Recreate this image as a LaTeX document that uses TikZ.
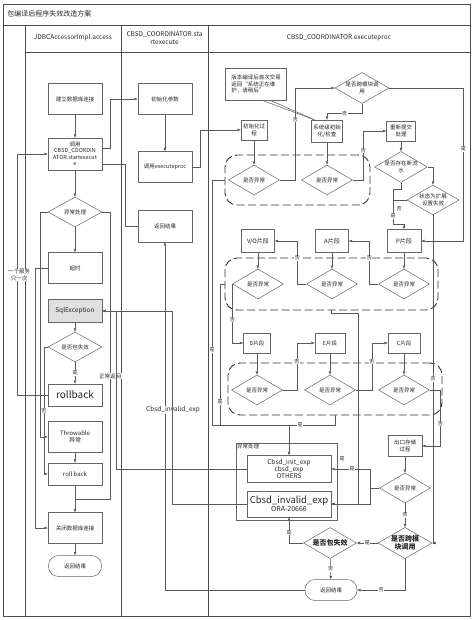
\documentclass[tikz,border=0pt]{standalone}
\usepackage{fontspec}
\setmainfont{Noto Sans CJK SC}
\usetikzlibrary{arrows.meta, positioning, calc, shapes.geometric}

\begin{document}
\begin{tikzpicture}[x=1pt, y=-1pt, line width=0.5pt,
        every node/.style={font=\fontsize{5.5}{6.5}\selectfont, align=center, inner sep=1pt, text=black!85},
        lane/.style={draw=black!70, line width=0.8pt},
        stepbox/.style={draw=black!60, minimum width=54pt, minimum height=31pt},
        smallbox/.style={draw=black!60, minimum width=30pt, minimum height=21pt},
        piece/.style={smallbox, minimum height=23pt, font=\fontsize{6}{7}\selectfont},
        decide/.style={diamond, draw=black!60, aspect=1.7, minimum width=51pt, minimum height=30pt, inner sep=0pt},
        endbox/.style={draw=black!60, rounded corners=10pt, minimum width=53pt, minimum height=21pt},
        grp/.style={draw=black!80, dash pattern=on 8pt off 3.5pt, rounded corners=12pt, line width=0.9pt},
        lbl/.style={fill=white, inner sep=0.5pt, font=\fontsize{5}{6}\selectfont},
        ln/.style={draw=black!65},
        arr/.style={draw=black!65, -{Triangle[length=1.2mm, width=0.9mm]}}]

        \useasboundingbox (0,0) rectangle (474,620);

        % frame and lanes
        \draw[lane] (3,4) rectangle (470,616);
        \draw[lane] (3,25) -- (470,25) (25,52) -- (470,52);
        \foreach \x in {25,121,208} \draw[lane] (\x,25) -- (\x,616);
        \node[anchor=west, font=\fontsize{7}{8}\selectfont] (title) at (6,14) {包编译后程序失效改造方案};
        \node[font=\fontsize{6.5}{8}\selectfont] (h1) at (73,38) {JDBCAccessorImpl.access};
        \node[font=\fontsize{6.5}{8}\selectfont] (h2) at (164.5,38) {CBSD\_COORDINATOR.sta\\rtexecute};
        \node[font=\fontsize{6.5}{8}\selectfont] (h3) at (339,38) {CBSD\_COORDINATOR.executeproc};

        % JDBCAccessorImpl.access
        \node[stepbox] (conn) at (75,99) {建立数据库连接};
        \node[stepbox, minimum height=32pt] (call) at (75,154) {调用\\CBSD\_COORDIN\\ATOR.startexecut\\e};
        \node[decide, minimum width=54pt] (exc) at (75,212) {异常处理};
        \node[stepbox] (timeout) at (75,268) {超时};
        \node[stepbox, fill=black!12, minimum height=23pt, font=\fontsize{6.5}{7.5}\selectfont] (sqlexc) at (75,311) {SqlException};
        \node[decide, minimum width=54pt] (pkgjd) at (75,347) {是否包失效};
        \node[stepbox, minimum height=22pt, font=\fontsize{10}{11}\selectfont] (rb1) at (75,395) {rollback};
        \node[stepbox, font=\fontsize{6}{7}\selectfont] (throw) at (75,437) {Throwable\\异常};
        \node[stepbox, minimum height=22pt, font=\fontsize{6}{7}\selectfont] (rb2) at (75,474) {roll back};
        \node[stepbox] (close) at (75,528) {关闭数据库连接};
        \node[endbox] (ret1) at (75,566) {返回结果};

        % CBSD_COORDINATOR.startexecute
        \node[stepbox] (param) at (165,99) {初始化参数};
        \node[stepbox] (callproc) at (165,167) {调用executeproc};
        \node[stepbox, minimum height=32pt] (ret2) at (165,226) {返回结果};

        % CBSD_COORDINATOR.executeproc
        \node[draw=black!60, minimum width=61pt, minimum height=32pt, align=left] (note) at (256,84) {版本编译后首次交易\\返回“系统正在维\\护，请稍后”};
        \node[smallbox, minimum width=26pt, minimum height=20pt] (init) at (254,130) {初始化过\\程};
        \node[decide, minimum width=54pt] (topcross) at (362,88) {是否跨模块调\\用};
        \node[smallbox, minimum width=31pt, minimum height=22pt] (sysinit) at (327,131) {系统级初始\\化/检查};
        \node[smallbox, minimum width=29pt, minimum height=20pt] (resubmit) at (401,131) {重新提交\\处理};
        \node[decide, minimum width=52pt, minimum height=29pt] (newflow) at (401,167) {是否存在新流\\水};
        \node[decide, minimum width=52pt] (status) at (433,200) {状态为扩展\\设置失效};

        \node[piece, minimum width=33pt] (vo) at (258,241) {V/O片段};
        \node[piece, minimum width=33pt] (A) at (332,241) {A片段};
        \node[piece, minimum width=34pt] (P) at (404,241) {P片段};
        \node[smallbox, minimum width=27pt, minimum height=20pt] (D) at (257,343) {D片段};
        \node[smallbox, minimum width=30pt, minimum height=20pt] (E) at (330,343) {E片段};
        \node[smallbox, minimum width=32pt, minimum height=20pt] (C) at (404,343) {C片段};

        \node[grp, minimum width=145pt, minimum height=50pt] (grp1) at (297.5,180) {};
        \node[grp, minimum width=213pt, minimum height=52pt] (grp2) at (331.5,284) {};
        \node[grp, minimum width=214pt, minimum height=52pt] (grp3) at (335,389) {};

        \foreach \n/\x/\y in {g1a/254/180, g1b/327/180, dV/258/284, dA/332/284, dP/404/284,
                dD/257/390, dE/330/390, dC/404/390, dExit/405/488}
            \node[decide] (\n) at (\x,\y) {是否异常};

        \node[smallbox, minimum width=34pt, minimum height=21pt] (exit) at (405,446) {出口存储\\过程};
        \node[decide, minimum width=54pt, minimum height=31pt, font=\bfseries\fontsize{7}{8}\selectfont] (lowcross) at (405,543) {是否跨模\\块调用};
        \node[decide, minimum width=53pt, minimum height=31pt, font=\bfseries\fontsize{7}{8}\selectfont] (pkg) at (330,543) {是否包失效};
        \node[endbox, minimum width=52pt] (ret3) at (331,590) {返回结果};

        \node[draw=black!60, minimum width=101pt, minimum height=77pt] (exbox) at (286.5,481.5) {};
        \node[anchor=north west] (exlabel) at (exbox.north west) {异常处理};
        \node[draw=black!60, minimum width=84pt, minimum height=27pt, font=\fontsize{6.5}{7}\selectfont] (initexp) at (289,469) {Cbsd\_init\_exp\\cbsd\_exp\\OTHERS};
        \node[draw=black!60, minimum width=84pt, minimum height=26pt] (invalid) at (289,504) {{\fontsize{9.5}{10}\selectfont Cbsd\_invalid\_exp}\\{\fontsize{7}{8}\selectfont ORA-20666}};

        % connectors, JDBC lane
        \draw[arr] (conn) -- (call);
        \draw[arr] ([yshift=6pt]call.east) -- ++(8,0) |- (param.west);
        \draw[ln] ([yshift=-10pt]call.east) -- ++(23,0) |- (ret2.west);
        \draw[arr] (call) -- (exc);
        \draw[arr] (exc) -- (timeout);
        \draw[ln] (exc.east) -- ++(8,0) |- ($(rb2.south)!0.5!(close.north)$);
        \draw[arr] (exc.west) -- ++(-8,0) |- (throw.west);
        \draw[arr] (timeout.west) -- ++(-13,0) |- (close.west);
        \draw[arr] (sqlexc) -- (pkgjd);
        \draw[arr] (pkgjd) -- node[lbl]{是} (rb1);
        \draw[arr] (pkgjd.west) -- ++(-4,0) |- node[lbl, pos=0.25]{否} (rb2.west);
        \draw[arr] (rb1.west) -- ++(-31,0) |- (call.west);
        \draw[arr] (throw) -- (rb2);
        \draw[arr] (rb2) -- (close);
        \draw[arr] (close) -- (ret1);
        \node[lbl, font=\fontsize{5.5}{6.5}\selectfont] (once) at (19,275) {一个服务\\只一次};
        \node[lbl, font=\fontsize{5.5}{6.5}\selectfont] (normal) at (110,376) {正常返回};

        % connectors, startexecute lane
        \draw[arr] (param) -- (callproc);
        \draw[arr] (callproc.east) -- ++(8,0) |- (init.west);
        \draw[arr] (ret3.west) -| (ret2.south);
        \node[lbl, font=\fontsize{6.5}{7.5}\selectfont] (invexp) at (173,410) {Cbsd\_invalid\_exp};
        \draw[arr] (invalid.west) -- ++(-75,0) |- (sqlexc.east);
        \draw[arr] (initexp.west) -- ++(-131,0) |- (sqlexc.east);

        % connectors, executeproc lane
        \draw[ln] ([xshift=6pt]note.south) -- ([xshift=3pt]sysinit.north west);
        \draw[ln] ([xshift=14pt]note.south) -- ([xshift=3pt]sysinit.north west);
        \draw[arr] (init) -- (g1a);
        \draw[arr] (g1a.east) -- ++(15.5,0) |- node[lbl, pos=0.33]{否} (topcross.west);
        \draw[arr] (topcross.south) -- ++(0,10) -| node[lbl, pos=0.25]{否} (sysinit.north);
        \draw[arr] (topcross.east) -- ++(74,0) |- node[lbl, pos=0.2]{是} (P.east);
        \draw[arr] (sysinit) -- (g1b);
        \draw[arr] (g1b.east) -- ++(10.5,0) |- node[lbl, pos=0.3]{否} (resubmit.west);
        \draw[arr] (resubmit) -- (newflow);
        \draw[arr] (newflow.east) -| (status.north);
        \draw[arr] (newflow.south) -- ++(0,7) -| (393,224) -| (P.north);
        \coordinate (pjoin) at (393,200);
        \draw[ln] (status.west) -- (pjoin);
        \node[lbl] (nflow) at (399,209) {否};
        \node[lbl] (ystat) at (393,216) {是};
        \draw[arr] (status.south) |- node[lbl, pos=0.25]{否} (lowcross.east);

        \draw[arr] (P) -- (dP);
        \draw[arr] (dP.west) -- ++(-9,0) |- node[lbl, pos=0.3]{否} (A.east);
        \draw[arr] (A) -- (dA);
        \draw[arr] (dA.west) -- ++(-9,0) |- node[lbl, pos=0.3]{否} (vo.east);
        \draw[arr] (vo) -- (dV);
        \draw[arr] (dV.west) |- node[lbl, pos=0.3]{否} (D.west);
        \draw[arr] (D) -- (dD);
        \draw[arr] (dD.east) -- ++(14,0) |- node[lbl, pos=0.3]{否} (E.west);
        \draw[arr] (E) -- (dE);
        \draw[arr] (dE.east) -- ++(16,0) |- node[lbl, pos=0.3]{否} (C.west);
        \draw[arr] (C) -- (dC);
        \draw[arr] (dC.east) -- ++(10.5,0) |- node[lbl, pos=0.3]{否} (exit.east);
        \draw[arr] (exit) -- (dExit);

        \draw[arr] (grp1.west) -| (212,425) -| (initexp.north);
        \draw[ln] (grp2.west) -| (220,425);
        \draw[ln] (grp3.south) |- (289,425);
        \node[lbl] (ya) at (212,350) {是};
        \node[lbl] (yb) at (220,402) {是};
        \node[lbl] (yc) at (300,425) {是};
        \draw[arr] (grp2.south) -- ++(0,3) -| (358,504) -- (invalid.east);

        \draw[arr] (dExit.west) -- ++(-9.5,0) |- (initexp.east);
        \draw[arr] (dExit.west) -- ++(-9.5,0) |- (invalid.east);
        \node[lbl] (yd) at (352,469) {是};
        \node[lbl] (ye) at (342,459) {是};
        \draw[arr] (dExit) -- node[lbl]{否} (lowcross);
        \draw[arr] (lowcross) -- node[lbl]{是} (pkg);
        \draw[arr] (pkg.west) -| node[lbl, pos=0.7]{是} (invalid.south);
        \draw[arr] (pkg) -- node[lbl]{否} (ret3);
        \draw[arr] (lowcross.south) |- node[lbl, pos=0.75]{否} (ret3.east);
\end{tikzpicture}
\end{document}
